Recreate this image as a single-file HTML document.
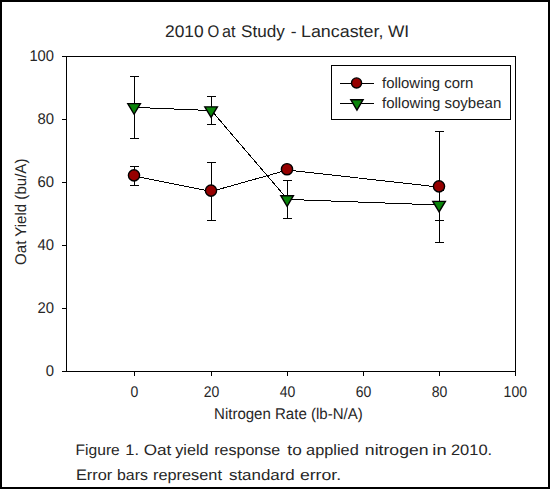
<!DOCTYPE html>
<html><head><meta charset="utf-8">
<style>
html,body{margin:0;padding:0;background:#fff;}
body{width:550px;height:489px;overflow:hidden;}
svg{display:block;}
text{font-family:"Liberation Sans",sans-serif;fill:#262626;text-rendering:geometricPrecision;}
</style></head>
<body>
<svg width="550" height="489" viewBox="0 0 550 489">
<rect x="0" y="0" width="550" height="489" fill="#fff"/>
<rect x="1" y="1" width="548" height="487" fill="none" stroke="#000" stroke-width="2"/>
<g stroke="#000" stroke-width="1" fill="none" shape-rendering="crispEdges">
<rect x="66.5" y="56.5" width="449" height="315"/>
<path d="M62 56.5H66M62 119.5H66M62 182.5H66M62 245.5H66M62 308.5H66M62 371.5H66"/>
<path d="M134.5 372V376M211.5 372V376M287.5 372V376M363.5 372V376M439.5 372V376M515.5 372V376"/>
</g>
<g stroke="#000" stroke-width="1" fill="none" shape-rendering="crispEdges">
<polyline points="134.5,176.14 211.5,191.4 287.5,170.0 439.5,187.14"/>
<polyline points="134.5,107.34 211.5,110.57 287.5,199.38 439.5,205.04"/>
</g>
<g stroke="#000" stroke-width="1" fill="none" shape-rendering="crispEdges">
<path d="M134.5 166.5V185.5M130 166.5H139M130 185.5H139M211.5 162.5V220.5M207 162.5H216M207 220.5H216M439.5 131.5V242.5M435 131.5H444M435 242.5H444M134.5 76.5V138.5M130 76.5H139M130 138.5H139M211.5 96.5V124.5M207 96.5H216M207 124.5H216M287.5 180.5V218.5M283 180.5H292M283 218.5H292M439.5 190.5V220.5M435 190.5H444M435 220.5H444"/>
</g>
<g stroke="#000" stroke-width="1.4">
<g fill="#960000">
<circle cx="134" cy="175.34" r="5.60"/>
<circle cx="211" cy="190.60" r="5.60"/>
<circle cx="287" cy="169.20" r="5.60"/>
<circle cx="439" cy="186.34" r="5.60"/>
</g>
<g fill="#0a840a">
<path d="M127.80 103.64H140.40L134.10 114.24Z"/>
<path d="M204.80 106.87H217.40L211.10 117.47Z"/>
<path d="M280.80 195.68H293.40L287.10 206.28Z"/>
<path d="M432.80 201.34H445.40L439.10 211.94Z"/>
</g>
</g>
<rect x="331.5" y="65.5" width="179" height="54" fill="#fff" stroke="#000" stroke-width="1" shape-rendering="crispEdges"/>
<path d="M340 83.5H374M340 103.5H374" stroke="#000" stroke-width="1" shape-rendering="crispEdges"/>
<circle cx="356.55" cy="82.95" r="5.05" fill="#960000" stroke="#000" stroke-width="1.4"/>
<path d="M350.80 99.70H363.10L356.95 110.10Z" fill="#0a840a" stroke="#000" stroke-width="1.4"/>
<text id="t_0" transform="translate(164.98,36.60) scale(1.0283,1)" font-size="16.9">2010</text>
<text id="t_1" transform="translate(207.44,36.60) scale(0.8938,1)" font-size="16.9">O</text>
<text id="t_2" transform="translate(221.98,36.60) scale(0.9572,1)" font-size="16.9">at</text>
<text id="t_3" transform="translate(240.98,36.60) scale(1.0151,1)" font-size="16.9">Study</text>
<text id="t_4" transform="translate(290.65,36.60) scale(1.0300,1)" font-size="16.9">-</text>
<text id="t_5" transform="translate(300.96,36.60) scale(1.0580,1)" font-size="16.9">Lancaster,</text>
<text id="t_6" transform="translate(388.00,36.60) scale(1.0258,1)" font-size="16.9">WI</text>
<text id="y100" transform="translate(54.00,60.80) scale(0.9500,1)" font-size="15.5" text-anchor="end">100</text>
<text id="y80" transform="translate(54.00,123.80) scale(0.9600,1)" font-size="15.5" text-anchor="end">80</text>
<text id="y60" transform="translate(54.00,186.80) scale(0.9600,1)" font-size="15.5" text-anchor="end">60</text>
<text id="y40" transform="translate(54.00,249.80) scale(0.9600,1)" font-size="15.5" text-anchor="end">40</text>
<text id="y20" transform="translate(54.00,312.80) scale(0.9600,1)" font-size="15.5" text-anchor="end">20</text>
<text id="y0" transform="translate(54.00,375.80) scale(0.9600,1)" font-size="15.5" text-anchor="end">0</text>
<text id="x0" transform="translate(134.50,396.90) scale(0.9047,1)" font-size="15.5" text-anchor="middle">0</text>
<text id="x20" transform="translate(211.50,396.90) scale(0.9047,1)" font-size="15.5" text-anchor="middle">20</text>
<text id="x40" transform="translate(287.50,396.90) scale(0.9047,1)" font-size="15.5" text-anchor="middle">40</text>
<text id="x60" transform="translate(363.50,396.90) scale(0.9047,1)" font-size="15.5" text-anchor="middle">60</text>
<text id="x80" transform="translate(439.50,396.90) scale(0.9047,1)" font-size="15.5" text-anchor="middle">80</text>
<text id="x100" transform="translate(515.30,396.90) scale(0.9047,1)" font-size="15.5" text-anchor="middle">100</text>
<text id="xtitle" transform="translate(214.03,418.70) scale(0.9639,1)" font-size="15.6">Nitrogen Rate (lb-N/A)</text>
<text id="ytitle" transform="translate(26.00,264.97) rotate(-90) scale(0.9722,1)" font-size="15.5">Oat Yield (bu/A)</text>
<text id="leg1" transform="translate(381.99,87.80) scale(0.9948,1)" font-size="15">following corn</text>
<text id="leg2" transform="translate(381.97,107.50) scale(1.0003,1)" font-size="15">following soybean</text>
<text id="c1_0" transform="translate(75.60,454.50) scale(1.0318,1)" font-size="15.1" fill="#202020">Figure</text>
<text id="c1_1" transform="translate(125.28,454.50) scale(1.0891,1)" font-size="15.1" fill="#202020">1.</text>
<text id="c1_2" transform="translate(143.71,454.50) scale(1.1357,1)" font-size="15.1" fill="#202020">Oat</text>
<text id="c1_3" transform="translate(175.16,454.50) scale(1.0776,1)" font-size="15.1" fill="#202020">yield</text>
<text id="c1_4" transform="translate(214.15,454.50) scale(1.0642,1)" font-size="15.1" fill="#202020">response</text>
<text id="c1_5" transform="translate(287.36,454.50) scale(1.1401,1)" font-size="15.1" fill="#202020">to</text>
<text id="c1_6" transform="translate(306.12,454.50) scale(1.0819,1)" font-size="15.1" fill="#202020">applied</text>
<text id="c1_7" transform="translate(364.87,454.50) scale(1.1672,1)" font-size="15.1" fill="#202020">nitrogen</text>
<text id="c1_8" transform="translate(432.35,454.50) scale(1.2143,1)" font-size="15.1" fill="#202020">in</text>
<text id="c1_9" transform="translate(450.96,454.50) scale(1.0912,1)" font-size="15.1" fill="#202020">2010.</text>
<text id="c2_0" transform="translate(75.97,479.80) scale(1.0824,1)" font-size="15.1" fill="#202020">Error</text>
<text id="c2_1" transform="translate(117.00,479.80) scale(1.0513,1)" font-size="15.1" fill="#202020">bars</text>
<text id="c2_2" transform="translate(152.97,479.80) scale(1.0822,1)" font-size="15.1" fill="#202020">represent</text>
<text id="c2_3" transform="translate(228.93,479.80) scale(1.1205,1)" font-size="15.1" fill="#202020">standard</text>
<text id="c2_4" transform="translate(299.89,479.80) scale(1.1700,1)" font-size="15.1" fill="#202020">error.</text>
</svg>
</body></html>
